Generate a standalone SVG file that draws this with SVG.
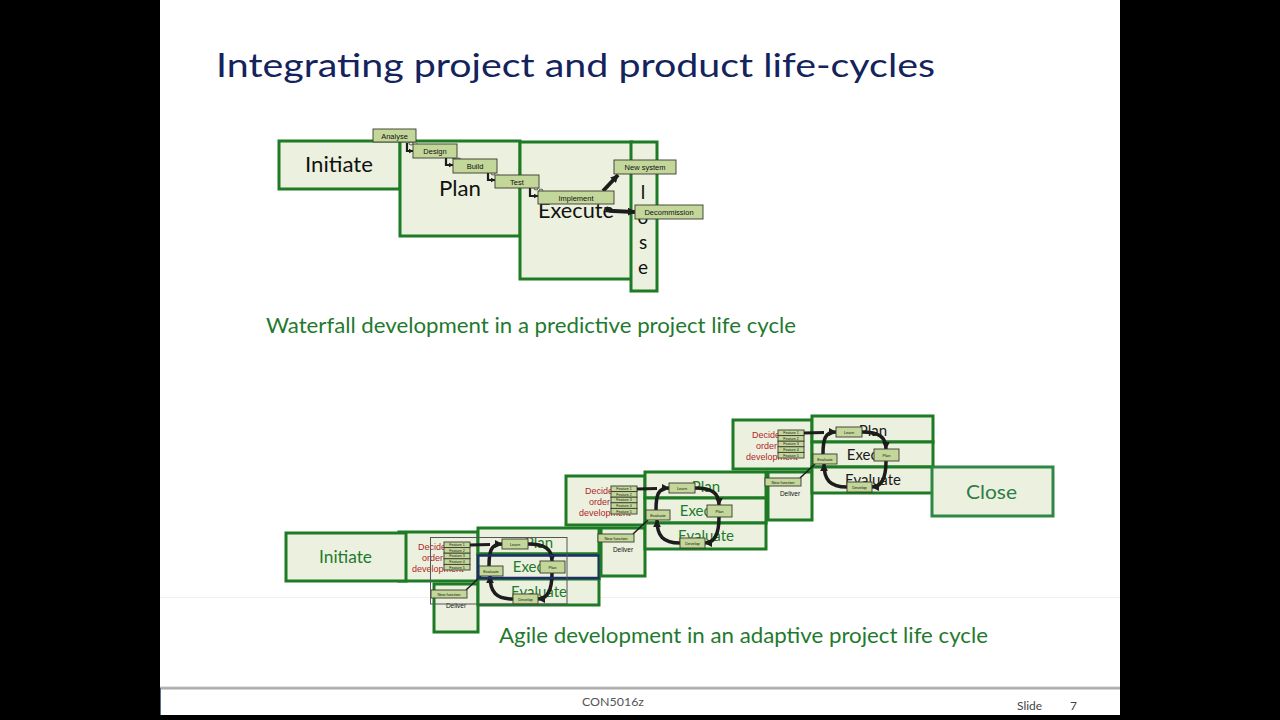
<svg xmlns="http://www.w3.org/2000/svg" width="1280" height="720" viewBox="0 0 1280 720">
<defs>
<style>
.bx{fill:#ebf1de;stroke:#1e7b25;stroke-width:3}
.sb{fill:#c4d79b;stroke:#3a3a2e;stroke-width:0.9}
.t{font-family:Lato,"Liberation Sans",sans-serif}
.st{font-family:"Liberation Sans",Arial,sans-serif;fill:#111;text-anchor:middle}
.dt{font-family:"Liberation Sans",Arial,sans-serif;fill:#b3262b;font-size:9px}
.rt{font-size:15px;text-anchor:middle;fill:currentColor}
.ar{fill:none;stroke:#1c1c1c}
.ring{fill:none;stroke:#333;stroke-width:0.8}
</style>
<marker id="ah" viewBox="0 0 10 10" refX="9" refY="5" markerWidth="8" markerHeight="8" markerUnits="userSpaceOnUse" orient="auto"><path d="M0,0 L10,5 L0,10 z" fill="#1c1c1c"/></marker>
<marker id="ahs" viewBox="0 0 10 10" refX="9" refY="5" markerWidth="5" markerHeight="5" markerUnits="userSpaceOnUse" orient="auto"><path d="M0,0 L10,5 L0,10 z" fill="#1c1c1c"/></marker>
<linearGradient id="sh" x1="0" y1="0" x2="0" y2="1">
<stop offset="0" stop-color="#ffffff"/><stop offset="0.5" stop-color="#9a9a9a"/><stop offset="1" stop-color="#e8e8e8"/>
</linearGradient>
<g id="iter">
<rect class="bx" x="399" y="532" width="79" height="49"/>
<text class="dt" x="418" y="550">Decide</text>
<text class="dt" x="422" y="561">order</text>
<text class="dt" x="412" y="572">development</text>
<rect class="bx" x="434" y="584" width="44" height="48"/>
<text class="st" x="456" y="608" font-size="6.5">Deliver</text>
<rect class="bx" x="478" y="528" width="121" height="26"/>
<rect class="bx" x="478" y="554" width="121" height="25"/>
<rect class="bx" x="478" y="579" width="121" height="26"/>
<text class="t rt" x="539" y="548">Plan</text>
<text class="t rt" x="539" y="572">Execute</text>
<text class="t rt" x="539" y="597">Evaluate</text>
<rect class="sb" x="444" y="542" width="26" height="5.6"/>
<rect class="sb" x="444" y="547.6" width="26" height="5.6"/>
<rect class="sb" x="444" y="553.2" width="26" height="5.6"/>
<rect class="sb" x="444" y="558.8" width="26" height="5.6"/>
<rect class="sb" x="444" y="564.4" width="26" height="5.6"/>
<text class="st" x="457" y="546.2" font-size="3.6">Feature 1</text>
<text class="st" x="457" y="551.8" font-size="3.6">Feature 2</text>
<text class="st" x="457" y="557.4" font-size="3.6">Feature 3</text>
<text class="st" x="457" y="563" font-size="3.6">Feature 4</text>
<text class="st" x="457" y="568.6" font-size="3.6">Feature 5</text>
<path class="ar" stroke-width="3" d="M470,545 L490,544.5"/>
<path class="ar" stroke-width="3.5" marker-end="url(#ah)" d="M489,566 C489,551 491,544 502,544"/>
<path class="ar" stroke-width="3.5" marker-end="url(#ah)" d="M528,544 C545,544 552,549 552,561"/>
<path class="ar" stroke-width="3.5" marker-end="url(#ah)" d="M552,573 C552,590 548,599 538,599"/>
<path class="ar" stroke-width="3.5" marker-end="url(#ah)" d="M513,599 C496,599 490,592 490,576"/>
<path class="ar" stroke-width="1.5" d="M466,590 L481,576"/>
<rect class="sb" x="431" y="590" width="36" height="8"/>
<text class="st" x="449" y="595.5" font-size="4">New function</text>
<rect class="sb" x="502" y="539" width="26" height="10"/>
<text class="st" x="515" y="545.5" font-size="4">Learn</text>
<rect class="sb" x="540" y="561" width="25" height="12"/>
<text class="st" x="552.5" y="568.5" font-size="4">Plan</text>
<rect class="sb" x="513" y="594" width="25" height="10"/>
<text class="st" x="525.5" y="600.5" font-size="4">Develop</text>
<rect class="sb" x="479" y="566" width="24" height="10"/>
<text class="st" x="491" y="572.5" font-size="4">Evaluate</text>
</g>
</defs>

<rect x="0" y="0" width="1280" height="720" fill="#000"/>
<rect x="160" y="0" width="960" height="688" fill="#fff"/>
<rect x="160" y="689" width="960" height="26" fill="#fff"/>
<rect x="160" y="686" width="960" height="4" fill="url(#sh)"/>
<line x1="160.5" y1="688" x2="160.5" y2="715" stroke="#5c6f93" stroke-width="1"/>
<line x1="160" y1="597.5" x2="1120" y2="597.5" stroke="#f1f1f1" stroke-width="1"/>

<text class="t" x="216" y="77" font-size="33" fill="#13235c" textLength="719" lengthAdjust="spacingAndGlyphs">Integrating project and product life-cycles</text>

<g id="wf-initiate">
<rect class="bx" x="279" y="141" width="121" height="48"/>
<text class="t" x="305" y="172" font-size="21" fill="#111" textLength="68" lengthAdjust="spacingAndGlyphs">Initiate</text>
</g>
<g id="wf-plan">
<rect class="bx" x="400" y="141" width="120" height="95"/>
<text class="t" x="439" y="196" font-size="21" fill="#111" textLength="42" lengthAdjust="spacingAndGlyphs">Plan</text>
</g>
<g id="wf-execute">
<rect class="bx" x="520" y="142" width="112" height="137"/>
<text class="t" x="538" y="218" font-size="21" fill="#111" textLength="76" lengthAdjust="spacingAndGlyphs">Execute</text>
</g>
<g id="wf-close">
<rect class="bx" x="631" y="142" width="26" height="149"/>
<g class="t" font-size="19" fill="#111" text-anchor="middle">
<text x="643" y="174">C</text>
<text x="643" y="199">l</text>
<text x="643" y="224">o</text>
<text x="643" y="249">s</text>
<text x="643" y="274">e</text>
</g>
</g>

<g id="wf-connectors">
<path class="ar" stroke-width="2.2" marker-end="url(#ahs)" d="M407,143 V151 H413"/>
<path class="ar" stroke-width="2.2" marker-end="url(#ahs)" d="M446,158 V165 H453"/>
<path class="ar" stroke-width="2.2" marker-end="url(#ahs)" d="M488,173 V180 H495"/>
<path class="ar" stroke-width="2.2" marker-end="url(#ahs)" d="M530,188 V196 H538"/>
<path class="ar" stroke-width="4" marker-end="url(#ah)" d="M603,191 L618,175"/>
<path class="ar" stroke-width="4" marker-end="url(#ah)" d="M606,207 Q607,211 613,211 L635,212"/>
<circle class="ring" cx="411" cy="143" r="2"/><circle class="ring" cx="417" cy="146" r="2"/>
<circle class="ring" cx="454" cy="157" r="2"/><circle class="ring" cx="459" cy="160" r="2"/>
<circle class="ring" cx="493" cy="173" r="2"/><circle class="ring" cx="498" cy="177" r="2"/>
<circle class="ring" cx="536" cy="188" r="2"/><circle class="ring" cx="541" cy="191" r="2"/>
</g>

<g id="wf-tasks">
<rect class="sb" x="373" y="129" width="43" height="13"/>
<text class="st" x="394.5" y="138.5" font-size="7.5">Analyse</text>
<rect class="sb" x="413" y="144" width="44" height="14"/>
<text class="st" x="435" y="154" font-size="7.5">Design</text>
<rect class="sb" x="453" y="159" width="44" height="14"/>
<text class="st" x="475" y="169" font-size="7.5">Build</text>
<rect class="sb" x="495" y="175" width="44" height="13"/>
<text class="st" x="517" y="184.5" font-size="7.5">Test</text>
<rect class="sb" x="538" y="191" width="76" height="13"/>
<text class="st" x="576" y="200.5" font-size="7.5">Implement</text>
<rect class="sb" x="614" y="160" width="62" height="14"/>
<text class="st" x="645" y="170" font-size="7.5">New system</text>
<rect class="sb" x="635" y="205" width="68" height="14"/>
<text class="st" x="669" y="215" font-size="7.5">Decommission</text>
</g>

<text class="t" x="266" y="333" font-size="21" fill="#1f7a2e" textLength="530" lengthAdjust="spacingAndGlyphs">Waterfall development in a predictive project life cycle</text>

<g id="ag-iteration-1" style="color:#1f7a2e">
<use href="#iter"/>
<rect x="478" y="555.5" width="121" height="22.5" fill="none" stroke="#1f2d6b" stroke-width="2.5"/>
<rect x="430.5" y="537.5" width="136.5" height="66.5" fill="none" stroke="#555" stroke-width="1"/>
</g>
<g id="ag-initiate">
<rect class="bx" x="286" y="533" width="120" height="48"/>
<text class="t" x="319" y="562.5" font-size="17" fill="#1f7a2e" textLength="53" lengthAdjust="spacingAndGlyphs">Initiate</text>
</g>
<g id="ag-iteration-2" style="color:#1f7a2e">
<use href="#iter" transform="translate(167,-56)"/>
</g>
<g id="ag-iteration-3" style="color:#1b1b1b">
<use href="#iter" transform="translate(334,-112)"/>
</g>
<g id="ag-close">
<rect x="932" y="467" width="121" height="49" fill="#ebf1de" stroke="#2e8744" stroke-width="3"/>
<text class="t" x="966" y="499" font-size="20" fill="#2e7d46" textLength="51" lengthAdjust="spacingAndGlyphs">Close</text>
</g>

<text class="t" x="499" y="643" font-size="21" fill="#1f7a2e" textLength="489" lengthAdjust="spacingAndGlyphs">Agile development in an adaptive project life cycle</text>

<text class="t" x="582" y="706" font-size="12" fill="#555" textLength="62" lengthAdjust="spacingAndGlyphs">CON5016z</text>
<text class="t" x="1017" y="710" font-size="12" fill="#444">Slide</text>
<text class="t" x="1070" y="710" font-size="12" fill="#444">7</text>
</svg>
